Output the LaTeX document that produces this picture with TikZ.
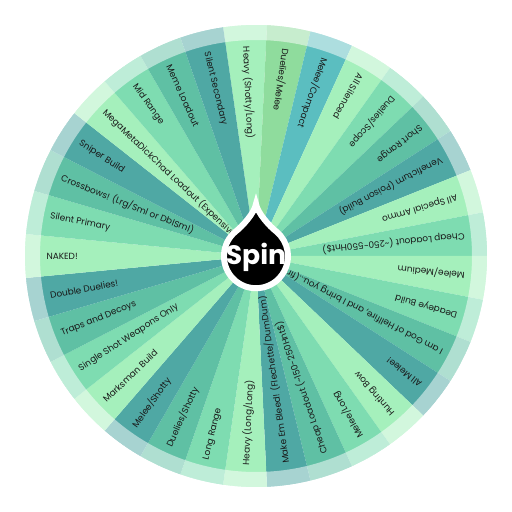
\documentclass[tikz,border=0pt]{standalone}
\usepackage{fontspec}
\setmainfont{Poppins}
\tikzset{every picture/.style={line width=0.75pt}}
\definecolor{wA}{HTML}{A5F0BC}
\definecolor{wB}{HTML}{7EDCB1}
\definecolor{wC}{HTML}{5FC0A4}
\definecolor{wD}{HTML}{4FA8A4}
\definecolor{wE}{HTML}{8FDC9D}
\definecolor{wF}{HTML}{5BBEC0}
\tikzset{
  slicelabel/.style={anchor=west, inner sep=0pt, text=black!90, font=\fontsize{6.7}{7}\selectfont},
  rimband/.style={fill=white, fill opacity=0.5, even odd rule},
}
\begin{document}
\begin{tikzpicture}[x=0.75pt,y=0.75pt]
\useasboundingbox (0,0) rectangle (512,512);

%Slices of the wheel
\foreach \col/\lbl [count=\i from 0] in {
  wA/{Heavy (Shotty/Long)}, wE/{Duelies/Melee}, wF/{Melee/Compact}, wA/{All Silenced},
  wB/{Duelies/Scope}, wC/{Short Range}, wD/{Venefictum (Poison Build)}, wA/{All Special Ammo},
  wB/{Cheap Loadout (\textasciitilde250-550Hnt\$)}, wA/{Melee/Medium}, wB/{Deadeye Build},
  wC/{I am God of Hellfire, and I bring you...(fire)}, wD/{All Melee!}, wA/{Hunting Bow},
  wB/{Melee/Long}, wC/{Cheap Loadout (\textasciitilde150-250Hnt\$)}, wD/{Make Em Bleed! (Flechette/DumDum)},
  wA/{Heavy (Long/Long)}, wB/{Long Range}, wC/{Duelies/Shotty}, wD/{Melee/Shotty},
  wA/{Marksman Build}, wB/{Single Shot Weapons Only}, wC/{Traps and Decoys}, wD/{Double Duelies!},
  wA/{NAKED!}, wB/{Silent Primary}, wC/{Crossbows! (Lrg/Sml or DblSml)}, wD/{Sniper Build},
  wA/{MegaMetaDickChad Loadout (Expensive)}, wB/{Mid Range}, wC/{Meme Loadout}, wD/{Silent Secondary}}
{
  \pgfmathsetmacro{\mid}{92.7273-\i*10.90909}
  \fill[\col] (256,256) -- ++(\mid-5.4545:231) arc[start angle=\mid-5.4545, end angle=\mid+5.4546, radius=231] -- cycle;
  \node[slicelabel, rotate=\mid+180] (lbl\i) at ([shift={(\mid:210)}]256,256) {\lbl};
}

%Outer rim
\fill[rimband] (256,256) circle[radius=231] (256,256) circle[radius=216];

%Spin button
\coordinate (tip) at (256,308);
\path[draw=white, line width=4.5pt, fill=black] (tip) .. controls (254.5,299) and (242.2,285.4) .. (235.4,280.3)
  arc[start angle=130, end angle=410, radius=32] .. controls (269.8,285.4) and (257.5,299) .. (tip) -- cycle;
\node[text=white, font=\fontsize{20}{20}\selectfont\bfseries, inner sep=0pt] (spin) at (256,255) {Spin};

\end{tikzpicture}
\end{document}
